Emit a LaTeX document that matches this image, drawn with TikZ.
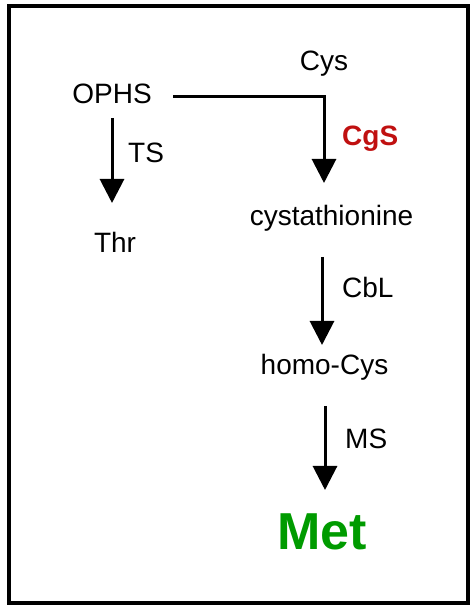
\documentclass[tikz,border=0pt]{standalone}
\usepackage{fontspec}
\setmainfont{Liberation Sans}
\usetikzlibrary{arrows.meta,calc}
\definecolor{cgsred}{RGB}{192,16,16}
\definecolor{metgreen}{RGB}{0,155,0}
\begin{document}
\begin{tikzpicture}[x=1pt,y=1pt,
  lbl/.style={inner sep=0pt,font=\fontsize{28}{32}\selectfont},
  arr/.style={line width=3pt,-{Triangle[length=24pt,width=24pt]}},
  plain/.style={line width=3pt}]
\useasboundingbox (0,0) rectangle (474,609);
\draw[line width=4pt] (9,6) rectangle (467.5,603);
% nodes
\node[lbl,anchor=base] (ophs) at (112,505) {OPHS};
\node[lbl,anchor=base] (cys) at (324,538) {Cys};
\node[lbl,anchor=base west,text=cgsred,font=\fontsize{28}{32}\selectfont\bfseries] (cgs) at (342,463) {CgS};
\node[lbl,anchor=base west] (ts) at (128,446) {TS};
\node[lbl,anchor=base] (thr) at (115,356) {Thr};
\node[lbl,anchor=base] (cysta) at (331.5,383) {cystathionine};
\node[lbl,anchor=base west] (cbl) at (342,311) {CbL};
\node[lbl,anchor=base] (hcys) at (324.5,234) {homo-Cys};
\node[lbl,anchor=base west] (ms) at (345,160) {MS};
\node[lbl,anchor=base,text=metgreen,font=\fontsize{52}{60}\selectfont\bfseries] (met) at (322,59) {Met};
% connectors
\draw[arr] ($(ophs.base)+(0,-14)$) -- ($(ophs.base |- thr.base)+(0,50)$);
\draw[arr] ($(ophs.base)+(61,7)$) -| ($(cys.base |- cysta.base)+(0,43)$);
\draw[arr] ($(cysta.base)+(-9.5,-31)$) -- ($(cysta.base |- hcys.base)+(-9.5,30)$);
\draw[arr] ($(hcys.base)+(0.5,-31)$) -- ($(hcys.base |- met.base)+(0.5,60)$);
\end{tikzpicture}
\end{document}
